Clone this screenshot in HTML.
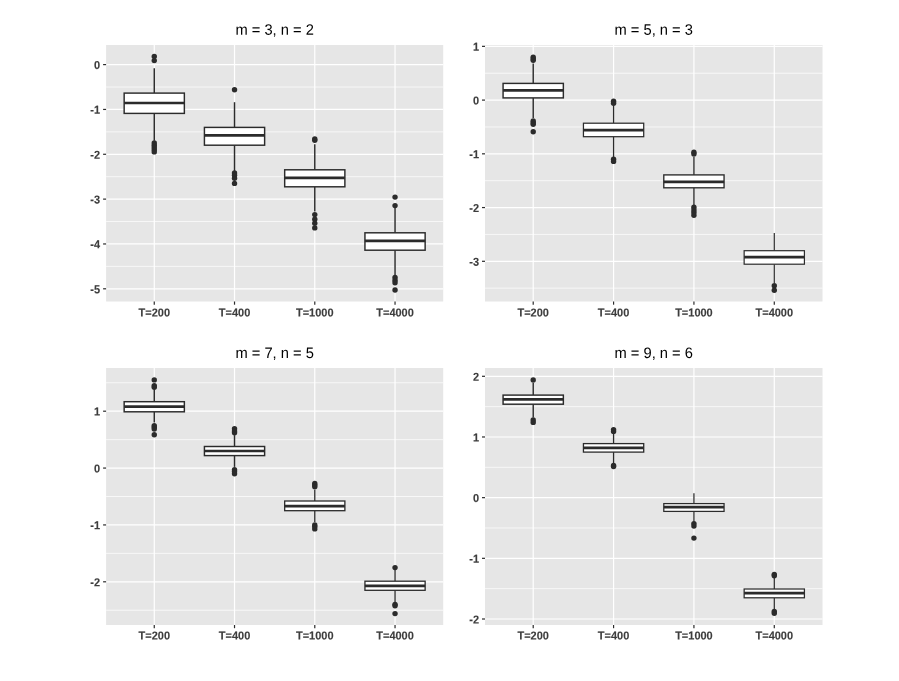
<!DOCTYPE html>
<html><head><meta charset="utf-8"><title>Boxplots</title>
<style>
html,body{margin:0;padding:0;background:#fff}
body{width:899px;height:681px;overflow:hidden}
svg text{font-family:"Liberation Sans",Arial,sans-serif}
.ax{font-size:11px;font-weight:bold;fill:#3d3d3d;stroke:#3d3d3d;stroke-width:0.12px}
.ti{font-size:15.2px;fill:#000}
</style></head><body>
<svg width="899" height="681" viewBox="0 0 899 681" style="display:block">
<rect width="899" height="681" fill="#fff"/>
<g>
<rect x="106.1" y="45" width="337.1" height="256.5" fill="#e6e6e6"/>
<line x1="106.1" x2="443.2" y1="87.02" y2="87.02" stroke="#fff" stroke-width="0.7"/>
<line x1="106.1" x2="443.2" y1="131.86" y2="131.86" stroke="#fff" stroke-width="0.7"/>
<line x1="106.1" x2="443.2" y1="176.7" y2="176.7" stroke="#fff" stroke-width="0.7"/>
<line x1="106.1" x2="443.2" y1="221.54" y2="221.54" stroke="#fff" stroke-width="0.7"/>
<line x1="106.1" x2="443.2" y1="266.38" y2="266.38" stroke="#fff" stroke-width="0.7"/>
<line x1="106.1" x2="443.2" y1="64.6" y2="64.6" stroke="#fff" stroke-width="1.2"/>
<line x1="103.1" x2="106.1" y1="64.6" y2="64.6" stroke="#2b2b2b" stroke-width="1.2"/>
<text transform="translate(100.1,69) scale(1,1.05) rotate(0.03)" text-anchor="end" class="ax">0</text>
<line x1="106.1" x2="443.2" y1="109.44" y2="109.44" stroke="#fff" stroke-width="1.2"/>
<line x1="103.1" x2="106.1" y1="109.44" y2="109.44" stroke="#2b2b2b" stroke-width="1.2"/>
<text transform="translate(100.1,113.84) scale(1,1.05) rotate(0.03)" text-anchor="end" class="ax">-1</text>
<line x1="106.1" x2="443.2" y1="154.28" y2="154.28" stroke="#fff" stroke-width="1.2"/>
<line x1="103.1" x2="106.1" y1="154.28" y2="154.28" stroke="#2b2b2b" stroke-width="1.2"/>
<text transform="translate(100.1,158.68) scale(1,1.05) rotate(0.03)" text-anchor="end" class="ax">-2</text>
<line x1="106.1" x2="443.2" y1="199.12" y2="199.12" stroke="#fff" stroke-width="1.2"/>
<line x1="103.1" x2="106.1" y1="199.12" y2="199.12" stroke="#2b2b2b" stroke-width="1.2"/>
<text transform="translate(100.1,203.52) scale(1,1.05) rotate(0.03)" text-anchor="end" class="ax">-3</text>
<line x1="106.1" x2="443.2" y1="243.96" y2="243.96" stroke="#fff" stroke-width="1.2"/>
<line x1="103.1" x2="106.1" y1="243.96" y2="243.96" stroke="#2b2b2b" stroke-width="1.2"/>
<text transform="translate(100.1,248.36) scale(1,1.05) rotate(0.03)" text-anchor="end" class="ax">-4</text>
<line x1="106.1" x2="443.2" y1="288.8" y2="288.8" stroke="#fff" stroke-width="1.2"/>
<line x1="103.1" x2="106.1" y1="288.8" y2="288.8" stroke="#2b2b2b" stroke-width="1.2"/>
<text transform="translate(100.1,293.2) scale(1,1.05) rotate(0.03)" text-anchor="end" class="ax">-5</text>
<line x1="154.26" x2="154.26" y1="45" y2="301.5" stroke="#fff" stroke-width="1.2"/>
<line x1="154.26" x2="154.26" y1="301.5" y2="304.7" stroke="#2b2b2b" stroke-width="1.2"/>
<text transform="translate(154.26,316.6) scale(1,1.05) rotate(0.03)" text-anchor="middle" class="ax">T=200</text>
<line x1="234.52" x2="234.52" y1="45" y2="301.5" stroke="#fff" stroke-width="1.2"/>
<line x1="234.52" x2="234.52" y1="301.5" y2="304.7" stroke="#2b2b2b" stroke-width="1.2"/>
<text transform="translate(234.52,316.6) scale(1,1.05) rotate(0.03)" text-anchor="middle" class="ax">T=400</text>
<line x1="314.78" x2="314.78" y1="45" y2="301.5" stroke="#fff" stroke-width="1.2"/>
<line x1="314.78" x2="314.78" y1="301.5" y2="304.7" stroke="#2b2b2b" stroke-width="1.2"/>
<text transform="translate(314.78,316.6) scale(1,1.05) rotate(0.03)" text-anchor="middle" class="ax">T=1000</text>
<line x1="395.04" x2="395.04" y1="45" y2="301.5" stroke="#fff" stroke-width="1.2"/>
<line x1="395.04" x2="395.04" y1="301.5" y2="304.7" stroke="#2b2b2b" stroke-width="1.2"/>
<text transform="translate(395.04,316.6) scale(1,1.05) rotate(0.03)" text-anchor="middle" class="ax">T=4000</text>
<circle cx="154.26" cy="56.5" r="2.7" fill="#2b2b2b"/>
<circle cx="154.26" cy="60.6" r="2.7" fill="#2b2b2b"/>
<circle cx="154.26" cy="143" r="2.7" fill="#2b2b2b"/>
<circle cx="154.26" cy="145.2" r="2.7" fill="#2b2b2b"/>
<circle cx="154.26" cy="147.5" r="2.7" fill="#2b2b2b"/>
<circle cx="154.26" cy="149.7" r="2.7" fill="#2b2b2b"/>
<circle cx="154.26" cy="151.9" r="2.7" fill="#2b2b2b"/>
<line x1="154.26" x2="154.26" y1="68.3" y2="93.1" stroke="#2b2b2b" stroke-width="1.45"/>
<line x1="154.26" x2="154.26" y1="113.4" y2="140.8" stroke="#2b2b2b" stroke-width="1.45"/>
<rect x="124.16" y="93.1" width="60.2" height="20.3" fill="#fff" stroke="#2b2b2b" stroke-width="1.45"/>
<line x1="124.16" x2="184.36" y1="103" y2="103" stroke="#2b2b2b" stroke-width="2.7"/>
<circle cx="234.52" cy="89.8" r="2.7" fill="#2b2b2b"/>
<circle cx="234.52" cy="173" r="2.7" fill="#2b2b2b"/>
<circle cx="234.52" cy="175.3" r="2.7" fill="#2b2b2b"/>
<circle cx="234.52" cy="178.2" r="2.7" fill="#2b2b2b"/>
<circle cx="234.52" cy="183.4" r="2.7" fill="#2b2b2b"/>
<line x1="234.52" x2="234.52" y1="102.2" y2="127.4" stroke="#2b2b2b" stroke-width="1.45"/>
<line x1="234.52" x2="234.52" y1="145.2" y2="171" stroke="#2b2b2b" stroke-width="1.45"/>
<rect x="204.42" y="127.4" width="60.2" height="17.8" fill="#fff" stroke="#2b2b2b" stroke-width="1.45"/>
<line x1="204.42" x2="264.62" y1="135.4" y2="135.4" stroke="#2b2b2b" stroke-width="2.7"/>
<circle cx="314.78" cy="139" r="2.7" fill="#2b2b2b"/>
<circle cx="314.78" cy="140.2" r="2.7" fill="#2b2b2b"/>
<circle cx="314.78" cy="214.6" r="2.7" fill="#2b2b2b"/>
<circle cx="314.78" cy="219.3" r="2.7" fill="#2b2b2b"/>
<circle cx="314.78" cy="223.2" r="2.7" fill="#2b2b2b"/>
<circle cx="314.78" cy="227.9" r="2.7" fill="#2b2b2b"/>
<line x1="314.78" x2="314.78" y1="144.3" y2="169.8" stroke="#2b2b2b" stroke-width="1.45"/>
<line x1="314.78" x2="314.78" y1="186.8" y2="211.4" stroke="#2b2b2b" stroke-width="1.45"/>
<rect x="284.68" y="169.8" width="60.2" height="17" fill="#fff" stroke="#2b2b2b" stroke-width="1.45"/>
<line x1="284.68" x2="344.88" y1="177.8" y2="177.8" stroke="#2b2b2b" stroke-width="2.7"/>
<circle cx="395.04" cy="197.1" r="2.7" fill="#2b2b2b"/>
<circle cx="395.04" cy="205.6" r="2.7" fill="#2b2b2b"/>
<circle cx="395.04" cy="277.5" r="2.7" fill="#2b2b2b"/>
<circle cx="395.04" cy="280.2" r="2.7" fill="#2b2b2b"/>
<circle cx="395.04" cy="282.8" r="2.7" fill="#2b2b2b"/>
<circle cx="395.04" cy="290" r="2.7" fill="#2b2b2b"/>
<line x1="395.04" x2="395.04" y1="207.5" y2="232.8" stroke="#2b2b2b" stroke-width="1.45"/>
<line x1="395.04" x2="395.04" y1="250.2" y2="275.7" stroke="#2b2b2b" stroke-width="1.45"/>
<rect x="364.94" y="232.8" width="60.2" height="17.4" fill="#fff" stroke="#2b2b2b" stroke-width="1.45"/>
<line x1="364.94" x2="425.14" y1="240.8" y2="240.8" stroke="#2b2b2b" stroke-width="2.7"/>
<text transform="translate(274.65,34.8) scale(0.968,1) rotate(0.03)" text-anchor="middle" class="ti">m = 3, n = 2</text>
</g>
<g>
<rect x="485" y="45" width="337.5" height="256.5" fill="#e6e6e6"/>
<line x1="485" x2="822.5" y1="73.22" y2="73.22" stroke="#fff" stroke-width="0.7"/>
<line x1="485" x2="822.5" y1="126.96" y2="126.96" stroke="#fff" stroke-width="0.7"/>
<line x1="485" x2="822.5" y1="180.69" y2="180.69" stroke="#fff" stroke-width="0.7"/>
<line x1="485" x2="822.5" y1="234.43" y2="234.43" stroke="#fff" stroke-width="0.7"/>
<line x1="485" x2="822.5" y1="288.17" y2="288.17" stroke="#fff" stroke-width="0.7"/>
<line x1="485" x2="822.5" y1="46.35" y2="46.35" stroke="#fff" stroke-width="1.2"/>
<line x1="482" x2="485" y1="46.35" y2="46.35" stroke="#2b2b2b" stroke-width="1.2"/>
<text transform="translate(479,50.75) scale(1,1.05) rotate(0.03)" text-anchor="end" class="ax">1</text>
<line x1="485" x2="822.5" y1="100.09" y2="100.09" stroke="#fff" stroke-width="1.2"/>
<line x1="482" x2="485" y1="100.09" y2="100.09" stroke="#2b2b2b" stroke-width="1.2"/>
<text transform="translate(479,104.49) scale(1,1.05) rotate(0.03)" text-anchor="end" class="ax">0</text>
<line x1="485" x2="822.5" y1="153.83" y2="153.83" stroke="#fff" stroke-width="1.2"/>
<line x1="482" x2="485" y1="153.83" y2="153.83" stroke="#2b2b2b" stroke-width="1.2"/>
<text transform="translate(479,158.23) scale(1,1.05) rotate(0.03)" text-anchor="end" class="ax">-1</text>
<line x1="485" x2="822.5" y1="207.56" y2="207.56" stroke="#fff" stroke-width="1.2"/>
<line x1="482" x2="485" y1="207.56" y2="207.56" stroke="#2b2b2b" stroke-width="1.2"/>
<text transform="translate(479,211.96) scale(1,1.05) rotate(0.03)" text-anchor="end" class="ax">-2</text>
<line x1="485" x2="822.5" y1="261.3" y2="261.3" stroke="#fff" stroke-width="1.2"/>
<line x1="482" x2="485" y1="261.3" y2="261.3" stroke="#2b2b2b" stroke-width="1.2"/>
<text transform="translate(479,265.7) scale(1,1.05) rotate(0.03)" text-anchor="end" class="ax">-3</text>
<line x1="533.21" x2="533.21" y1="45" y2="301.5" stroke="#fff" stroke-width="1.2"/>
<line x1="533.21" x2="533.21" y1="301.5" y2="304.7" stroke="#2b2b2b" stroke-width="1.2"/>
<text transform="translate(533.21,316.6) scale(1,1.05) rotate(0.03)" text-anchor="middle" class="ax">T=200</text>
<line x1="613.57" x2="613.57" y1="45" y2="301.5" stroke="#fff" stroke-width="1.2"/>
<line x1="613.57" x2="613.57" y1="301.5" y2="304.7" stroke="#2b2b2b" stroke-width="1.2"/>
<text transform="translate(613.57,316.6) scale(1,1.05) rotate(0.03)" text-anchor="middle" class="ax">T=400</text>
<line x1="693.93" x2="693.93" y1="45" y2="301.5" stroke="#fff" stroke-width="1.2"/>
<line x1="693.93" x2="693.93" y1="301.5" y2="304.7" stroke="#2b2b2b" stroke-width="1.2"/>
<text transform="translate(693.93,316.6) scale(1,1.05) rotate(0.03)" text-anchor="middle" class="ax">T=1000</text>
<line x1="774.29" x2="774.29" y1="45" y2="301.5" stroke="#fff" stroke-width="1.2"/>
<line x1="774.29" x2="774.29" y1="301.5" y2="304.7" stroke="#2b2b2b" stroke-width="1.2"/>
<text transform="translate(774.29,316.6) scale(1,1.05) rotate(0.03)" text-anchor="middle" class="ax">T=4000</text>
<circle cx="533.21" cy="57.1" r="2.7" fill="#2b2b2b"/>
<circle cx="533.21" cy="58.7" r="2.7" fill="#2b2b2b"/>
<circle cx="533.21" cy="60.3" r="2.7" fill="#2b2b2b"/>
<circle cx="533.21" cy="121" r="2.7" fill="#2b2b2b"/>
<circle cx="533.21" cy="122.8" r="2.7" fill="#2b2b2b"/>
<circle cx="533.21" cy="124.3" r="2.7" fill="#2b2b2b"/>
<circle cx="533.21" cy="131.8" r="2.7" fill="#2b2b2b"/>
<line x1="533.21" x2="533.21" y1="63.5" y2="83.4" stroke="#2b2b2b" stroke-width="1.45"/>
<line x1="533.21" x2="533.21" y1="97.9" y2="117.9" stroke="#2b2b2b" stroke-width="1.45"/>
<rect x="503.08" y="83.4" width="60.27" height="14.5" fill="#fff" stroke="#2b2b2b" stroke-width="1.45"/>
<line x1="503.08" x2="563.35" y1="90.4" y2="90.4" stroke="#2b2b2b" stroke-width="2.7"/>
<circle cx="613.57" cy="101.2" r="2.7" fill="#2b2b2b"/>
<circle cx="613.57" cy="103.3" r="2.7" fill="#2b2b2b"/>
<circle cx="613.57" cy="159.3" r="2.7" fill="#2b2b2b"/>
<circle cx="613.57" cy="161.4" r="2.7" fill="#2b2b2b"/>
<line x1="613.57" x2="613.57" y1="105.4" y2="123.2" stroke="#2b2b2b" stroke-width="1.25"/>
<line x1="613.57" x2="613.57" y1="136.7" y2="157.2" stroke="#2b2b2b" stroke-width="1.25"/>
<rect x="583.44" y="123.2" width="60.27" height="13.5" fill="#fff" stroke="#2b2b2b" stroke-width="1.25"/>
<line x1="583.44" x2="643.71" y1="130.2" y2="130.2" stroke="#2b2b2b" stroke-width="2.7"/>
<circle cx="693.93" cy="152.3" r="2.7" fill="#2b2b2b"/>
<circle cx="693.93" cy="153.9" r="2.7" fill="#2b2b2b"/>
<circle cx="693.93" cy="207.2" r="2.7" fill="#2b2b2b"/>
<circle cx="693.93" cy="209.9" r="2.7" fill="#2b2b2b"/>
<circle cx="693.93" cy="212.5" r="2.7" fill="#2b2b2b"/>
<circle cx="693.93" cy="215.2" r="2.7" fill="#2b2b2b"/>
<line x1="693.93" x2="693.93" y1="156.6" y2="174.9" stroke="#2b2b2b" stroke-width="1.35"/>
<line x1="693.93" x2="693.93" y1="187.8" y2="205" stroke="#2b2b2b" stroke-width="1.35"/>
<rect x="663.79" y="174.9" width="60.27" height="12.9" fill="#fff" stroke="#2b2b2b" stroke-width="1.35"/>
<line x1="663.79" x2="724.06" y1="181.9" y2="181.9" stroke="#2b2b2b" stroke-width="2.7"/>
<circle cx="774.29" cy="285.7" r="2.7" fill="#2b2b2b"/>
<circle cx="774.29" cy="290.2" r="2.7" fill="#2b2b2b"/>
<line x1="774.29" x2="774.29" y1="233" y2="250.7" stroke="#2b2b2b" stroke-width="1.2"/>
<line x1="774.29" x2="774.29" y1="264.2" y2="283" stroke="#2b2b2b" stroke-width="1.2"/>
<rect x="744.15" y="250.7" width="60.27" height="13.5" fill="#fff" stroke="#2b2b2b" stroke-width="1.2"/>
<line x1="744.15" x2="804.42" y1="257.2" y2="257.2" stroke="#2b2b2b" stroke-width="2.7"/>
<text transform="translate(653.75,34.8) scale(0.968,1) rotate(0.03)" text-anchor="middle" class="ti">m = 5, n = 3</text>
</g>
<g>
<rect x="106.1" y="368" width="337.1" height="257" fill="#e6e6e6"/>
<line x1="106.1" x2="443.2" y1="439.63" y2="439.63" stroke="#fff" stroke-width="0.7"/>
<line x1="106.1" x2="443.2" y1="496.5" y2="496.5" stroke="#fff" stroke-width="0.7"/>
<line x1="106.1" x2="443.2" y1="553.37" y2="553.37" stroke="#fff" stroke-width="0.7"/>
<line x1="106.1" x2="443.2" y1="610.23" y2="610.23" stroke="#fff" stroke-width="0.7"/>
<line x1="106.1" x2="443.2" y1="382.77" y2="382.77" stroke="#fff" stroke-width="0.7"/>
<line x1="106.1" x2="443.2" y1="411.2" y2="411.2" stroke="#fff" stroke-width="1.2"/>
<line x1="103.1" x2="106.1" y1="411.2" y2="411.2" stroke="#2b2b2b" stroke-width="1.2"/>
<text transform="translate(100.1,415.6) scale(1,1.05) rotate(0.03)" text-anchor="end" class="ax">1</text>
<line x1="106.1" x2="443.2" y1="468.07" y2="468.07" stroke="#fff" stroke-width="1.2"/>
<line x1="103.1" x2="106.1" y1="468.07" y2="468.07" stroke="#2b2b2b" stroke-width="1.2"/>
<text transform="translate(100.1,472.47) scale(1,1.05) rotate(0.03)" text-anchor="end" class="ax">0</text>
<line x1="106.1" x2="443.2" y1="524.93" y2="524.93" stroke="#fff" stroke-width="1.2"/>
<line x1="103.1" x2="106.1" y1="524.93" y2="524.93" stroke="#2b2b2b" stroke-width="1.2"/>
<text transform="translate(100.1,529.33) scale(1,1.05) rotate(0.03)" text-anchor="end" class="ax">-1</text>
<line x1="106.1" x2="443.2" y1="581.8" y2="581.8" stroke="#fff" stroke-width="1.2"/>
<line x1="103.1" x2="106.1" y1="581.8" y2="581.8" stroke="#2b2b2b" stroke-width="1.2"/>
<text transform="translate(100.1,586.2) scale(1,1.05) rotate(0.03)" text-anchor="end" class="ax">-2</text>
<line x1="154.26" x2="154.26" y1="368" y2="625" stroke="#fff" stroke-width="1.2"/>
<line x1="154.26" x2="154.26" y1="625" y2="628.2" stroke="#2b2b2b" stroke-width="1.2"/>
<text transform="translate(154.26,639.6) scale(1,1.05) rotate(0.03)" text-anchor="middle" class="ax">T=200</text>
<line x1="234.52" x2="234.52" y1="368" y2="625" stroke="#fff" stroke-width="1.2"/>
<line x1="234.52" x2="234.52" y1="625" y2="628.2" stroke="#2b2b2b" stroke-width="1.2"/>
<text transform="translate(234.52,639.6) scale(1,1.05) rotate(0.03)" text-anchor="middle" class="ax">T=400</text>
<line x1="314.78" x2="314.78" y1="368" y2="625" stroke="#fff" stroke-width="1.2"/>
<line x1="314.78" x2="314.78" y1="625" y2="628.2" stroke="#2b2b2b" stroke-width="1.2"/>
<text transform="translate(314.78,639.6) scale(1,1.05) rotate(0.03)" text-anchor="middle" class="ax">T=1000</text>
<line x1="395.04" x2="395.04" y1="368" y2="625" stroke="#fff" stroke-width="1.2"/>
<line x1="395.04" x2="395.04" y1="625" y2="628.2" stroke="#2b2b2b" stroke-width="1.2"/>
<text transform="translate(395.04,639.6) scale(1,1.05) rotate(0.03)" text-anchor="middle" class="ax">T=4000</text>
<circle cx="154.26" cy="379.9" r="2.7" fill="#2b2b2b"/>
<circle cx="154.26" cy="385.6" r="2.7" fill="#2b2b2b"/>
<circle cx="154.26" cy="387.3" r="2.7" fill="#2b2b2b"/>
<circle cx="154.26" cy="425.6" r="2.7" fill="#2b2b2b"/>
<circle cx="154.26" cy="427.3" r="2.7" fill="#2b2b2b"/>
<circle cx="154.26" cy="429.1" r="2.7" fill="#2b2b2b"/>
<circle cx="154.26" cy="434.8" r="2.7" fill="#2b2b2b"/>
<line x1="154.26" x2="154.26" y1="389.6" y2="401.7" stroke="#2b2b2b" stroke-width="1.45"/>
<line x1="154.26" x2="154.26" y1="411.8" y2="422.6" stroke="#2b2b2b" stroke-width="1.45"/>
<rect x="124.16" y="401.7" width="60.2" height="10.1" fill="#fff" stroke="#2b2b2b" stroke-width="1.45"/>
<line x1="124.16" x2="184.36" y1="406.7" y2="406.7" stroke="#2b2b2b" stroke-width="2.7"/>
<circle cx="234.52" cy="428.8" r="2.7" fill="#2b2b2b"/>
<circle cx="234.52" cy="431.1" r="2.7" fill="#2b2b2b"/>
<circle cx="234.52" cy="432.8" r="2.7" fill="#2b2b2b"/>
<circle cx="234.52" cy="469.8" r="2.7" fill="#2b2b2b"/>
<circle cx="234.52" cy="471.5" r="2.7" fill="#2b2b2b"/>
<circle cx="234.52" cy="473.8" r="2.7" fill="#2b2b2b"/>
<line x1="234.52" x2="234.52" y1="435.1" y2="446.5" stroke="#2b2b2b" stroke-width="1.45"/>
<line x1="234.52" x2="234.52" y1="455.6" y2="466.9" stroke="#2b2b2b" stroke-width="1.45"/>
<rect x="204.42" y="446.5" width="60.2" height="9.1" fill="#fff" stroke="#2b2b2b" stroke-width="1.45"/>
<line x1="204.42" x2="264.62" y1="451" y2="451" stroke="#2b2b2b" stroke-width="2.7"/>
<circle cx="314.78" cy="483.4" r="2.7" fill="#2b2b2b"/>
<circle cx="314.78" cy="485.1" r="2.7" fill="#2b2b2b"/>
<circle cx="314.78" cy="486.8" r="2.7" fill="#2b2b2b"/>
<circle cx="314.78" cy="524.9" r="2.7" fill="#2b2b2b"/>
<circle cx="314.78" cy="526.6" r="2.7" fill="#2b2b2b"/>
<circle cx="314.78" cy="528.9" r="2.7" fill="#2b2b2b"/>
<line x1="314.78" x2="314.78" y1="489.7" y2="501" stroke="#2b2b2b" stroke-width="1.3"/>
<line x1="314.78" x2="314.78" y1="510.7" y2="522.1" stroke="#2b2b2b" stroke-width="1.3"/>
<rect x="284.68" y="501" width="60.2" height="9.7" fill="#fff" stroke="#2b2b2b" stroke-width="1.3"/>
<line x1="284.68" x2="344.88" y1="506.2" y2="506.2" stroke="#2b2b2b" stroke-width="2.7"/>
<circle cx="395.04" cy="567.6" r="2.7" fill="#2b2b2b"/>
<circle cx="395.04" cy="604.5" r="2.7" fill="#2b2b2b"/>
<circle cx="395.04" cy="605.7" r="2.7" fill="#2b2b2b"/>
<circle cx="395.04" cy="613.6" r="2.7" fill="#2b2b2b"/>
<line x1="395.04" x2="395.04" y1="569.3" y2="581.2" stroke="#2b2b2b" stroke-width="1.3"/>
<line x1="395.04" x2="395.04" y1="590.3" y2="602.3" stroke="#2b2b2b" stroke-width="1.3"/>
<rect x="364.94" y="581.2" width="60.2" height="9.1" fill="#fff" stroke="#2b2b2b" stroke-width="1.3"/>
<line x1="364.94" x2="425.14" y1="585.8" y2="585.8" stroke="#2b2b2b" stroke-width="2.7"/>
<text transform="translate(274.65,358.1) scale(0.968,1) rotate(0.03)" text-anchor="middle" class="ti">m = 7, n = 5</text>
</g>
<g>
<rect x="485" y="368" width="337.5" height="257" fill="#e6e6e6"/>
<line x1="485" x2="822.5" y1="406.64" y2="406.64" stroke="#fff" stroke-width="0.7"/>
<line x1="485" x2="822.5" y1="467.31" y2="467.31" stroke="#fff" stroke-width="0.7"/>
<line x1="485" x2="822.5" y1="527.99" y2="527.99" stroke="#fff" stroke-width="0.7"/>
<line x1="485" x2="822.5" y1="588.66" y2="588.66" stroke="#fff" stroke-width="0.7"/>
<line x1="485" x2="822.5" y1="376.3" y2="376.3" stroke="#fff" stroke-width="1.2"/>
<line x1="482" x2="485" y1="376.3" y2="376.3" stroke="#2b2b2b" stroke-width="1.2"/>
<text transform="translate(479,380.7) scale(1,1.05) rotate(0.03)" text-anchor="end" class="ax">2</text>
<line x1="485" x2="822.5" y1="436.98" y2="436.98" stroke="#fff" stroke-width="1.2"/>
<line x1="482" x2="485" y1="436.98" y2="436.98" stroke="#2b2b2b" stroke-width="1.2"/>
<text transform="translate(479,441.38) scale(1,1.05) rotate(0.03)" text-anchor="end" class="ax">1</text>
<line x1="485" x2="822.5" y1="497.65" y2="497.65" stroke="#fff" stroke-width="1.2"/>
<line x1="482" x2="485" y1="497.65" y2="497.65" stroke="#2b2b2b" stroke-width="1.2"/>
<text transform="translate(479,502.05) scale(1,1.05) rotate(0.03)" text-anchor="end" class="ax">0</text>
<line x1="485" x2="822.5" y1="558.33" y2="558.33" stroke="#fff" stroke-width="1.2"/>
<line x1="482" x2="485" y1="558.33" y2="558.33" stroke="#2b2b2b" stroke-width="1.2"/>
<text transform="translate(479,562.73) scale(1,1.05) rotate(0.03)" text-anchor="end" class="ax">-1</text>
<line x1="485" x2="822.5" y1="619" y2="619" stroke="#fff" stroke-width="1.2"/>
<line x1="482" x2="485" y1="619" y2="619" stroke="#2b2b2b" stroke-width="1.2"/>
<text transform="translate(479,623.4) scale(1,1.05) rotate(0.03)" text-anchor="end" class="ax">-2</text>
<line x1="533.21" x2="533.21" y1="368" y2="625" stroke="#fff" stroke-width="1.2"/>
<line x1="533.21" x2="533.21" y1="625" y2="628.2" stroke="#2b2b2b" stroke-width="1.2"/>
<text transform="translate(533.21,639.6) scale(1,1.05) rotate(0.03)" text-anchor="middle" class="ax">T=200</text>
<line x1="613.57" x2="613.57" y1="368" y2="625" stroke="#fff" stroke-width="1.2"/>
<line x1="613.57" x2="613.57" y1="625" y2="628.2" stroke="#2b2b2b" stroke-width="1.2"/>
<text transform="translate(613.57,639.6) scale(1,1.05) rotate(0.03)" text-anchor="middle" class="ax">T=400</text>
<line x1="693.93" x2="693.93" y1="368" y2="625" stroke="#fff" stroke-width="1.2"/>
<line x1="693.93" x2="693.93" y1="625" y2="628.2" stroke="#2b2b2b" stroke-width="1.2"/>
<text transform="translate(693.93,639.6) scale(1,1.05) rotate(0.03)" text-anchor="middle" class="ax">T=1000</text>
<line x1="774.29" x2="774.29" y1="368" y2="625" stroke="#fff" stroke-width="1.2"/>
<line x1="774.29" x2="774.29" y1="625" y2="628.2" stroke="#2b2b2b" stroke-width="1.2"/>
<text transform="translate(774.29,639.6) scale(1,1.05) rotate(0.03)" text-anchor="middle" class="ax">T=4000</text>
<circle cx="533.21" cy="379.9" r="2.7" fill="#2b2b2b"/>
<circle cx="533.21" cy="419.9" r="2.7" fill="#2b2b2b"/>
<circle cx="533.21" cy="422.4" r="2.7" fill="#2b2b2b"/>
<line x1="533.21" x2="533.21" y1="382.4" y2="395.1" stroke="#2b2b2b" stroke-width="1.45"/>
<line x1="533.21" x2="533.21" y1="404.2" y2="417.5" stroke="#2b2b2b" stroke-width="1.45"/>
<rect x="503.08" y="395.1" width="60.27" height="9.1" fill="#fff" stroke="#2b2b2b" stroke-width="1.45"/>
<line x1="503.08" x2="563.35" y1="399.3" y2="399.3" stroke="#2b2b2b" stroke-width="2.7"/>
<circle cx="613.57" cy="429.6" r="2.7" fill="#2b2b2b"/>
<circle cx="613.57" cy="431.4" r="2.7" fill="#2b2b2b"/>
<circle cx="613.57" cy="465.4" r="2.7" fill="#2b2b2b"/>
<circle cx="613.57" cy="466.6" r="2.7" fill="#2b2b2b"/>
<line x1="613.57" x2="613.57" y1="433.3" y2="443.6" stroke="#2b2b2b" stroke-width="1.3"/>
<line x1="613.57" x2="613.57" y1="452.1" y2="463" stroke="#2b2b2b" stroke-width="1.3"/>
<rect x="583.44" y="443.6" width="60.27" height="8.5" fill="#fff" stroke="#2b2b2b" stroke-width="1.3"/>
<line x1="583.44" x2="643.71" y1="447.8" y2="447.8" stroke="#2b2b2b" stroke-width="2.7"/>
<circle cx="693.93" cy="523.6" r="2.7" fill="#2b2b2b"/>
<circle cx="693.93" cy="526" r="2.7" fill="#2b2b2b"/>
<circle cx="693.93" cy="538.1" r="2.7" fill="#2b2b2b"/>
<line x1="693.93" x2="693.93" y1="493.3" y2="503.6" stroke="#2b2b2b" stroke-width="1.25"/>
<line x1="693.93" x2="693.93" y1="511.4" y2="521.7" stroke="#2b2b2b" stroke-width="1.25"/>
<rect x="663.79" y="503.6" width="60.27" height="7.8" fill="#fff" stroke="#2b2b2b" stroke-width="1.25"/>
<line x1="663.79" x2="724.06" y1="507.2" y2="507.2" stroke="#2b2b2b" stroke-width="2.7"/>
<circle cx="774.29" cy="574.5" r="2.7" fill="#2b2b2b"/>
<circle cx="774.29" cy="575.7" r="2.7" fill="#2b2b2b"/>
<circle cx="774.29" cy="611.4" r="2.7" fill="#2b2b2b"/>
<circle cx="774.29" cy="613.2" r="2.7" fill="#2b2b2b"/>
<line x1="774.29" x2="774.29" y1="577.5" y2="589" stroke="#2b2b2b" stroke-width="1.25"/>
<line x1="774.29" x2="774.29" y1="597.8" y2="609.6" stroke="#2b2b2b" stroke-width="1.25"/>
<rect x="744.15" y="589" width="60.27" height="8.8" fill="#fff" stroke="#2b2b2b" stroke-width="1.25"/>
<line x1="744.15" x2="804.42" y1="593.2" y2="593.2" stroke="#2b2b2b" stroke-width="2.7"/>
<text transform="translate(653.75,358.1) scale(0.968,1) rotate(0.03)" text-anchor="middle" class="ti">m = 9, n = 6</text>
</g>
</svg>
</body></html>
